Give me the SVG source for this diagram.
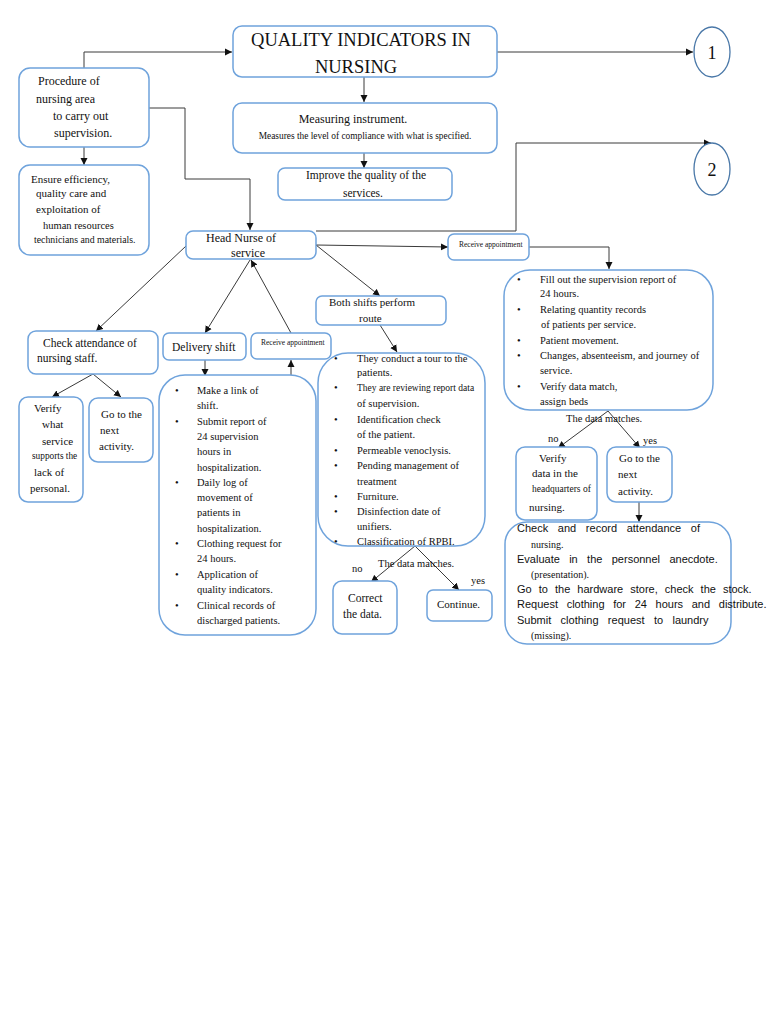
<svg xmlns="http://www.w3.org/2000/svg" width="768" height="1024" viewBox="0 0 768 1024">
<style>
.box{fill:#fff;stroke:#6fa3dc;stroke-width:1.5}
.circ{fill:#fff;stroke:#4a78a8;stroke-width:1.3}
.ln{fill:none;stroke:#3a3a3a;stroke-width:1}
text{font-family:"Liberation Serif","Times New Roman",serif;fill:#111}
.t12{font-size:12px}
.t11{font-size:11px}
.l{font-size:10.5px}
.ra{font-size:7.5px}
.sans{font-family:"Liberation Sans",Arial,sans-serif;font-size:11px}
.mid{text-anchor:middle}
</style>
<defs>
<marker id="ah" markerUnits="userSpaceOnUse" markerWidth="8" markerHeight="8" refX="7" refY="4" orient="auto">
<path d="M0,0.5 L7,4 L0,7.5 Z" fill="#111"/>
</marker>
</defs>
<rect width="768" height="1024" fill="#fff"/>

<g id="connectors">
<path class="ln" d="M84,68 V52 H232" marker-end="url(#ah)"/>
<path class="ln" d="M497,52 H693" marker-end="url(#ah)"/>
<path class="ln" d="M364,77 V102" marker-end="url(#ah)"/>
<path class="ln" d="M364,153 V168" marker-end="url(#ah)"/>
<path class="ln" d="M84,147 V165" marker-end="url(#ah)"/>
<path class="ln" d="M149,108 H185 V179 H250 V230" marker-end="url(#ah)"/>
<path class="ln" d="M316,231 H516 V143 H711" marker-end="url(#ah)"/>
<path class="ln" d="M316,245 L448,247" marker-end="url(#ah)"/>
<path class="ln" d="M529,247 H609 V269" marker-end="url(#ah)"/>
<path class="ln" d="M186,246 L96,331" marker-end="url(#ah)"/>
<path class="ln" d="M250,260 L205,333" marker-end="url(#ah)"/>
<path class="ln" d="M291,333 L251,260" marker-end="url(#ah)"/>
<path class="ln" d="M316,245 L380,296" marker-end="url(#ah)"/>
<path class="ln" d="M380,325 L397,352" marker-end="url(#ah)"/>
<path class="ln" d="M93,374 L52,397" marker-end="url(#ah)"/>
<path class="ln" d="M93,374 L121,397" marker-end="url(#ah)"/>
<path class="ln" d="M205,360 V376" marker-end="url(#ah)"/>
<path class="ln" d="M291,376 V360" marker-end="url(#ah)"/>
<path class="ln" d="M415,546 L371,582" marker-end="url(#ah)"/>
<path class="ln" d="M415,546 L459,590" marker-end="url(#ah)"/>
<path class="ln" d="M608,411 L558,448" marker-end="url(#ah)"/>
<path class="ln" d="M608,411 L640,448" marker-end="url(#ah)"/>
<path class="ln" d="M639,502 V522" marker-end="url(#ah)"/>
</g>

<g id="title">
<rect class="box" x="233" y="26" width="264" height="51" rx="9"/>
<text x="361" y="46" class="mid" font-size="18.5">QUALITY INDICATORS IN</text>
<text x="356" y="73" class="mid" font-size="18.5">NURSING</text>
</g>

<g id="circle1">
<ellipse class="circ" cx="712" cy="52" rx="18" ry="25"/>
<text x="712" y="59" class="mid" font-size="18">1</text>
</g>

<g id="circle2">
<ellipse class="circ" cx="712" cy="169" rx="18" ry="26"/>
<text x="712" y="176" class="mid" font-size="18">2</text>
</g>

<g id="procedure">
<rect class="box" x="19" y="68" width="130" height="79" rx="11"/>
<text class="t12" x="38" y="85">Procedure of</text>
<text class="t12" x="36" y="103">nursing area</text>
<text class="t12" x="53" y="120">to carry out</text>
<text class="t12" x="54" y="137">supervision.</text>
</g>

<g id="ensure">
<rect class="box" x="19" y="165" width="130" height="90" rx="11"/>
<text class="t11" x="31" y="183">Ensure efficiency,</text>
<text class="t11" x="36" y="197">quality care and</text>
<text class="t11" x="36" y="213">exploitation of</text>
<text x="43" y="229" font-size="10.5">human resources</text>
<text x="34" y="243" font-size="9.8">technicians and materials.</text>
</g>

<g id="measuring">
<rect class="box" x="233" y="103" width="264" height="50" rx="9"/>
<text x="353" y="123" class="mid" font-size="12">Measuring instrument.</text>
<text x="365" y="139" class="mid" font-size="9.4">Measures the level of compliance with what is specified.</text>
</g>

<g id="improve">
<rect class="box" x="278" y="168" width="174" height="32" rx="7"/>
<text x="366" y="179" class="mid" font-size="11.5">Improve the quality of the</text>
<text x="363" y="197" class="mid" font-size="11.5">services.</text>
</g>

<g id="headnurse">
<rect class="box" x="186" y="231" width="130" height="28" rx="7"/>
<text class="t12" x="206" y="242">Head Nurse of</text>
<text class="t12" x="231" y="257">service</text>
</g>

<g id="receive-right">
<rect class="box" x="448" y="234" width="81" height="26" rx="6"/>
<text class="ra" x="459" y="247">Receive appointment</text>
</g>

<g id="check-attendance">
<rect class="box" x="28" y="331" width="130" height="43" rx="8"/>
<text x="43" y="347" font-size="11.5">Check attendance of</text>
<text x="37" y="362" font-size="11.5">nursing staff.</text>
</g>

<g id="delivery-shift">
<rect class="box" x="163" y="333" width="83" height="27" rx="6"/>
<text x="172" y="351" font-size="11.5">Delivery shift</text>
</g>

<g id="receive-left">
<rect class="box" x="251" y="333" width="80" height="26" rx="6"/>
<text class="ra" x="261" y="345">Receive appointment</text>
</g>

<g id="both-shifts">
<rect class="box" x="316" y="296" width="130" height="29" rx="6"/>
<text class="t11" x="329" y="306">Both shifts perform</text>
<text class="t11" x="359" y="322">route</text>
</g>

<g id="verify-left">
<rect class="box" x="19" y="397" width="64" height="105" rx="9"/>
<text class="t11" x="34" y="412">Verify</text>
<text class="t11" x="42" y="428">what</text>
<text class="t11" x="42" y="445">service</text>
<text x="32" y="459" font-size="9.3">supports the</text>
<text class="t11" x="34" y="476">lack of</text>
<text class="t11" x="30" y="492">personal.</text>
</g>

<g id="next-left">
<rect class="box" x="89" y="398" width="64" height="64" rx="9"/>
<text class="t11" x="101" y="418">Go to the</text>
<text class="t11" x="100" y="434">next</text>
<text class="t11" x="99" y="450">activity.</text>
</g>

<g id="delivery-list">
<rect class="box" x="159" y="375" width="157" height="260" rx="26"/>
<g class="l">
<text x="175" y="394">•</text><text x="197" y="394">Make a link of</text>
<text x="197" y="409">shift.</text>
<text x="175" y="425">•</text><text x="197" y="425">Submit report of</text>
<text x="197" y="440">24 supervision</text>
<text x="197" y="455">hours in</text>
<text x="197" y="471">hospitalization.</text>
<text x="175" y="486">•</text><text x="197" y="486">Daily log of</text>
<text x="197" y="501">movement of</text>
<text x="197" y="516">patients in</text>
<text x="197" y="532">hospitalization.</text>
<text x="175" y="547">•</text><text x="197" y="547">Clothing request for</text>
<text x="197" y="562">24 hours.</text>
<text x="175" y="578">•</text><text x="197" y="578">Application of</text>
<text x="197" y="593">quality indicators.</text>
<text x="175" y="609">•</text><text x="197" y="609">Clinical records of</text>
<text x="197" y="624">discharged patients.</text>
</g>
</g>

<g id="route-list">
<rect class="box" x="318" y="353" width="167" height="193" rx="30"/>
<g class="l">
<text x="334" y="362">•</text><text x="357" y="362">They conduct a tour to the</text>
<text x="357" y="376">patients.</text>
<text x="334" y="391">•</text><text x="357" y="391" font-size="9.5">They are reviewing report data</text>
<text x="357" y="407">of supervision.</text>
<text x="334" y="423">•</text><text x="357" y="423">Identification check</text>
<text x="357" y="438">of the patient.</text>
<text x="334" y="454">•</text><text x="357" y="454">Permeable venoclysis.</text>
<text x="334" y="469">•</text><text x="357" y="469">Pending management of</text>
<text x="357" y="485">treatment</text>
<text x="334" y="500">•</text><text x="357" y="500">Furniture.</text>
<text x="334" y="515">•</text><text x="357" y="515">Disinfection date of</text>
<text x="357" y="530">unifiers.</text>
<text x="334" y="545">•</text><text x="357" y="545">Classification of RPBI.</text>
</g>
</g>

<g id="route-decision-labels">
<text class="l" x="378" y="567">The data matches.</text>
<text class="l" x="352" y="572">no</text>
<text class="l" x="471" y="584">yes</text>
</g>

<g id="correct">
<rect class="box" x="333" y="581" width="64" height="53" rx="9"/>
<text x="348" y="602" font-size="11.5">Correct</text>
<text x="343" y="618" font-size="11.5">the data.</text>
</g>

<g id="continue">
<rect class="box" x="427" y="590" width="65" height="31" rx="6"/>
<text class="t11" x="437" y="608">Continue.</text>
</g>

<g id="right-list">
<rect class="box" x="504" y="270" width="209" height="140" rx="26"/>
<g class="l">
<text x="517" y="283">•</text><text x="540" y="283">Fill out the supervision report of</text>
<text x="540" y="297">24 hours.</text>
<text x="517" y="313">•</text><text x="540" y="313">Relating quantity records</text>
<text x="541" y="328">of patients per service.</text>
<text x="517" y="344">•</text><text x="540" y="344">Patient movement.</text>
<text x="517" y="359">•</text><text x="540" y="359">Changes, absenteeism, and journey of</text>
<text x="540" y="374">service.</text>
<text x="517" y="390">•</text><text x="540" y="390">Verify data match,</text>
<text x="540" y="405">assign beds</text>
</g>
</g>

<g id="right-decision-labels">
<text class="l" x="566" y="422">The data matches.</text>
<text class="l" x="548" y="442">no</text>
<text class="l" x="643" y="444">yes</text>
</g>

<g id="verify-right">
<rect class="box" x="516" y="447" width="81" height="73" rx="9"/>
<text class="t11" x="539" y="462">Verify</text>
<text class="t11" x="532" y="477">data in the</text>
<text x="532" y="492" font-size="9.5">headquarters of</text>
<text class="t11" x="529" y="511">nursing.</text>
</g>

<g id="next-right">
<rect class="box" x="607" y="447" width="65" height="55" rx="9"/>
<text class="t11" x="619" y="462">Go to the</text>
<text class="t11" x="618" y="478">next</text>
<text class="t11" x="618" y="495">activity.</text>
</g>

<g id="bottom-right">
<rect class="box" x="505" y="522" width="226" height="122" rx="22"/>
<text class="sans" x="517" y="532" word-spacing="6.6">Check and record attendance of</text>
<text x="531" y="548" font-size="10">nursing.</text>
<text class="sans" x="517" y="563" word-spacing="6.3">Evaluate in the personnel anecdote.</text>
<text x="531" y="578" font-size="10">(presentation).</text>
<text class="sans" x="517" y="593" word-spacing="4">Go to the hardware store, check the stock.</text>
<text class="sans" x="517" y="608" word-spacing="5.6">Request clothing for 24 hours and distribute.</text>
<text class="sans" x="517" y="624" word-spacing="6.3">Submit clothing request to laundry</text>
<text x="531" y="639" font-size="10">(missing).</text>
</g>
</svg>
